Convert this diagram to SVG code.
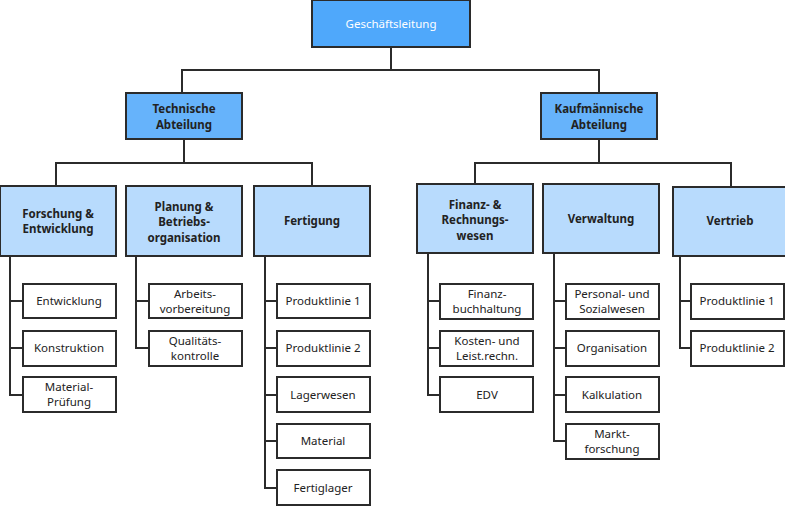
<svg xmlns="http://www.w3.org/2000/svg" width="785" height="508" viewBox="0 0 785 508">
<style>
rect{stroke:#2b2b2b;stroke-width:2}
.l0{fill:#4fa8fb}.l1{fill:#66b3fb}.l2{fill:#b8dbfd}.l3{fill:#fff}
text{font-family:"Noto Sans","Open Sans",sans-serif;font-size:11.5px;text-anchor:middle;fill:#222}
.b{font-weight:bold}
.w{fill:#fff}
#connectors path{fill:none;stroke:#2b2b2b;stroke-width:2}
</style>
<rect width="785" height="508" fill="#fff" style="stroke:none"/>
<g id="connectors">
<path d="M391 47V70M182 93V70H599V93"/>
<path d="M184 139V163M56 186V163H312V186"/>
<path d="M599 139V163M475 186V163H731V186"/>
<path d="M10 256V395H23M10 301H23M10 348H23"/>
<path d="M136 256V348H149M136 301H149"/>
<path d="M265 256V488H277M265 301H277M265 348H277M265 395H277M265 441H277"/>
<path d="M428 253V395H440M428 301H440M428 348H440"/>
<path d="M554 253V441H566M554 301H566M554 348H566M554 395H566"/>
<path d="M680 256V348H690M680 301H690"/>
</g>
<g id="n0"><rect class="l0" x="312" y="0" width="158" height="47"/><text class="w" x="391" y="28">Geschäftsleitung</text></g>
<g id="n1"><rect class="l1" x="126" y="93" width="116" height="46"/><text class="b" x="184" y="113">Technische</text><text class="b" x="184" y="129">Abteilung</text></g>
<g id="n2"><rect class="l1" x="541" y="93" width="116" height="46"/><text class="b" x="599" y="113">Kaufmännische</text><text class="b" x="599" y="129">Abteilung</text></g>
<g id="n3"><rect class="l2" x="0" y="186" width="116" height="70"/><text class="b" x="58" y="218">Forschung &amp;</text><text class="b" x="58" y="233">Entwicklung</text></g>
<g id="n4"><rect class="l2" x="126" y="186" width="116" height="70"/><text class="b" x="184" y="211">Planung &amp;</text><text class="b" x="184" y="226">Betriebs-</text><text class="b" x="184" y="242">organisation</text></g>
<g id="n5"><rect class="l2" x="254" y="186" width="116" height="70"/><text class="b" x="312" y="225">Fertigung</text></g>
<g id="n6"><rect class="l2" x="417" y="184" width="116" height="69"/><text class="b" x="475" y="209">Finanz- &amp;</text><text class="b" x="475" y="224">Rechnungs-</text><text class="b" x="475" y="240">wesen</text></g>
<g id="n7"><rect class="l2" x="543" y="184" width="116" height="69"/><text class="b" x="601" y="223">Verwaltung</text></g>
<g id="n8"><rect class="l2" x="673" y="187" width="113" height="69"/><text class="b" x="730" y="225">Vertrieb</text></g>
<g id="a1"><rect class="l3" x="23" y="284" width="93" height="34"/><text x="69" y="305">Entwicklung</text></g>
<g id="a2"><rect class="l3" x="23" y="331" width="93" height="35"/><text x="69" y="352">Konstruktion</text></g>
<g id="a3"><rect class="l3" x="23" y="377" width="93" height="35"/><text x="69" y="391">Material-</text><text x="69" y="406">Prüfung</text></g>
<g id="b1"><rect class="l3" x="149" y="284" width="93" height="34"/><text x="195" y="298">Arbeits-</text><text x="195" y="313">vorbereitung</text></g>
<g id="b2"><rect class="l3" x="149" y="331" width="93" height="35"/><text x="195" y="345">Qualitäts-</text><text x="195" y="360">kontrolle</text></g>
<g id="c1"><rect class="l3" x="277" y="284" width="93" height="34"/><text x="323" y="305">Produktlinie 1</text></g>
<g id="c2"><rect class="l3" x="277" y="331" width="93" height="35"/><text x="323" y="352">Produktlinie 2</text></g>
<g id="c3"><rect class="l3" x="277" y="377" width="93" height="35"/><text x="323" y="399">Lagerwesen</text></g>
<g id="c4"><rect class="l3" x="277" y="424" width="93" height="34"/><text x="323" y="445">Material</text></g>
<g id="c5"><rect class="l3" x="277" y="470" width="93" height="35"/><text x="323" y="492">Fertiglager</text></g>
<g id="d1"><rect class="l3" x="440" y="284" width="93" height="35"/><text x="487" y="298">Finanz-</text><text x="487" y="313">buchhaltung</text></g>
<g id="d2"><rect class="l3" x="440" y="331" width="93" height="35"/><text x="487" y="345">Kosten- und</text><text x="487" y="360">Leist.rechn.</text></g>
<g id="d3"><rect class="l3" x="440" y="377" width="93" height="35"/><text x="487" y="399">EDV</text></g>
<g id="e1"><rect class="l3" x="566" y="284" width="93" height="35"/><text x="612" y="298">Personal- und</text><text x="612" y="313">Sozialwesen</text></g>
<g id="e2"><rect class="l3" x="566" y="331" width="93" height="35"/><text x="612" y="352">Organisation</text></g>
<g id="e3"><rect class="l3" x="566" y="377" width="93" height="35"/><text x="612" y="399">Kalkulation</text></g>
<g id="e4"><rect class="l3" x="566" y="424" width="93" height="35"/><text x="612" y="438">Markt-</text><text x="612" y="453">forschung</text></g>
<g id="f1"><rect class="l3" x="691" y="284" width="93" height="35"/><text x="737" y="305">Produktlinie 1</text></g>
<g id="f2"><rect class="l3" x="691" y="331" width="93" height="35"/><text x="737" y="352">Produktlinie 2</text></g>
</svg>
